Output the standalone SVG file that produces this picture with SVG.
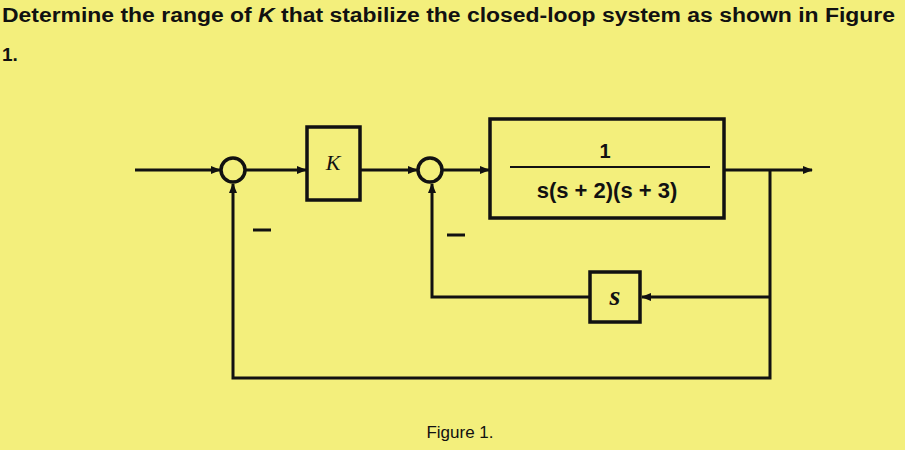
<svg xmlns="http://www.w3.org/2000/svg" width="905" height="450" viewBox="0 0 905 450">
<defs>
<marker id="ar" markerWidth="10" markerHeight="8" refX="9" refY="4" orient="auto" markerUnits="userSpaceOnUse"><path d="M0,0 L10,4 L0,8 z" fill="#111"/></marker>
</defs>
<style>
.l{stroke:#111;stroke-width:3;fill:none}
.b{stroke:#111;stroke-width:3.5;fill:#f3ef7c}
.t{font-family:"Liberation Sans",Arial,sans-serif;fill:#111}
.m{font-family:"Liberation Serif","Times New Roman",serif;fill:#111}
</style>
<rect width="905" height="450" fill="#f3ef7c"/>
<text class="t" x="2" y="22" font-size="20" font-weight="bold" textLength="893" lengthAdjust="spacingAndGlyphs">Determine the range of <tspan font-style="italic">K</tspan> that stabilize the closed-loop system as shown in Figure</text>
<text class="t" x="2" y="61" font-size="19" font-weight="bold">1.</text>
<g id="connectors">
<line class="l" x1="135" y1="170" x2="220" y2="170" marker-end="url(#ar)"/>
<line class="l" x1="245" y1="170" x2="306" y2="170" marker-end="url(#ar)"/>
<line class="l" x1="360" y1="170" x2="417" y2="170" marker-end="url(#ar)"/>
<line class="l" x1="442" y1="170" x2="489" y2="170" marker-end="url(#ar)"/>
<line class="l" x1="724" y1="170" x2="812" y2="170" marker-end="url(#ar)"/>
<polyline class="l" points="770,170 770,378 233,378 233,184" marker-end="url(#ar)"/>
<polyline class="l" points="770,297 642,297" marker-end="url(#ar)"/>
<polyline class="l" points="590,297 432,297 432,184" marker-end="url(#ar)"/>
</g>
<g id="sum1"><circle class="b" cx="233" cy="170" r="12"/></g>
<g id="sum2"><circle class="b" cx="430" cy="170" r="12"/></g>
<g id="K"><rect class="b" x="307" y="127" width="53" height="73"/><text class="m" x="333" y="170" font-size="22" font-style="italic" text-anchor="middle">K</text></g>
<g id="plant"><rect class="b" x="490" y="119" width="234" height="99"/>
<text class="t" x="605" y="158" font-size="20" font-weight="bold" text-anchor="middle">1</text>
<line x1="510" y1="167" x2="710" y2="167" stroke="#111" stroke-width="2"/>
<text class="t" x="607" y="198" font-size="22" font-weight="bold" text-anchor="middle">s(s + 2)(s + 3)</text></g>
<g id="s"><rect class="b" x="590" y="272" width="50" height="50"/><text class="m" x="615" y="305" font-size="28" font-weight="bold" font-style="italic" text-anchor="middle">s</text></g>
<line x1="253" y1="230" x2="271" y2="230" stroke="#111" stroke-width="3"/>
<line x1="447" y1="235" x2="465" y2="235" stroke="#111" stroke-width="3"/>
<text class="t" x="460" y="438" font-size="17" text-anchor="middle">Figure 1.</text>
</svg>
